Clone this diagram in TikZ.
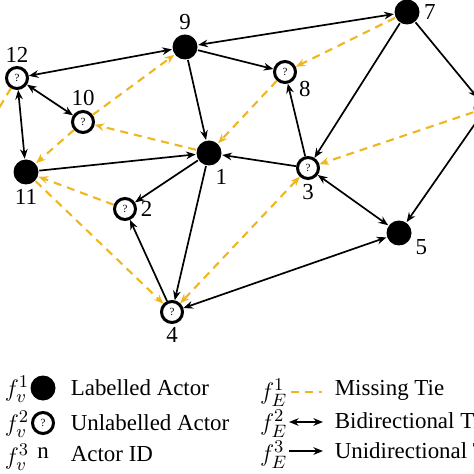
\documentclass[tikz,border=0pt]{standalone}
\usepackage{fontspec}
\setmainfont{Liberation Serif}
\usepackage{amsmath}
\usepackage{tikz}
\usetikzlibrary{arrows.meta}
\definecolor{tieyellow}{RGB}{240,182,30}

\begin{document}
\begin{tikzpicture}[x=0.5bp, y=-0.5bp, >={Stealth[length=4.8bp,width=3.8bp]}, line width=0.85bp, label distance=0.5bp,
	labelled/.style={circle, fill=black, inner sep=0pt, minimum size=12.5bp},
	unlabelled/.style={circle, draw=black, fill=white, line width=1.5bp, inner sep=0pt, minimum size=10.5bp, font=\fontsize{5.5}{5.5}\selectfont},
	actorid/.style={font=\fontsize{11.5}{12}\selectfont, inner sep=1bp},
	missingtie/.style={color=tieyellow, dash pattern=on 4bp off 3bp, line width=1.05bp},
	legend/.style={font=\fontsize{11.5}{13}\selectfont, inner sep=0pt},
	feature/.style={font=\fontsize{13}{14}\selectfont, inner sep=0pt}]

	\useasboundingbox (0,0) rectangle (474,474);
	\clip (0,0) rectangle (474,474);

	% actors
	\node[labelled] (n1) at (209,153) [label={[actorid]-75:1}] {};
	\node[unlabelled] (n2) at (125,209) [label={[actorid]right:2}] {?};
	\node[unlabelled] (n3) at (308,168) [label={[actorid]below:3}] {?};
	\node[unlabelled] (n4) at (172,312) [label={[actorid]below:4}] {?};
	\node[labelled] (n5) at (399,233) [label={[actorid]-15:5}] {};
	\node[labelled] (n6) at (486,108) {};
	\node[labelled] (n7) at (407,12) [label={[actorid]right:7}] {};
	\node[unlabelled] (n8) at (285,72) [label={[actorid]-30:8}] {?};
	\node[labelled] (n9) at (185,47) [label={[actorid]above:9}] {};
	\node[unlabelled] (n10) at (83,122) [label={[actorid]above:10}] {?};
	\node[labelled] (n11) at (26,172) [label={[actorid]below:11}] {};
	\node[unlabelled] (n12) at (17,78) [label={[actorid]above:12}] {?};
	\coordinate (out) at (-20,140);

	% unidirectional ties
	\draw[->] (n9) -- (n8);
	\draw[->] (n9) -- (n1);
	\draw[->] (n11) -- (n1);
	\draw[->] (n1) -- (n2);
	\draw[->] (n1) -- (n4);
	\draw[->] (n3) -- (n1);
	\draw[->] (n3) -- (n8);
	\draw[->] (n7) -- (n3);
	\draw[->] (n7) -- (n6);
	\draw[->] (n6) -- (n5);
	\draw[->] (n4) -- (n2);

	% bidirectional ties
	\draw[<->] (n9) -- (n7);
	\draw[<->] (n12) -- (n9);
	\draw[<->] (n12) -- (n10);
	\draw[<->] (n12) -- (n11);
	\draw[<->] (n3) -- (n5);
	\draw[<->] (n4) -- (n5);

	% missing ties
	\draw[missingtie,->] (n7) -- (n8);
	\draw[missingtie,->] (n10) -- (n9);
	\draw[missingtie,->] (n10) -- (n11);
	\draw[missingtie,->] (n1) -- (n10);
	\draw[missingtie,->] (n8) -- (n1);
	\draw[missingtie,->] (n6) -- (n3);
	\draw[missingtie,<->] (n3) -- (n4);
	\draw[missingtie,->] (n2) -- (n11);
	\draw[missingtie,->] (n11) -- (n4);
	\draw[missingtie] (n12) -- (out);

	% legend
	\node[feature, anchor=east] (fv1) at (30,389) {$f_v^1$};
	\node[labelled] (keylab) at (43,388) {};
	\node[legend, anchor=west] (txtlab) at (70,388) {Labelled Actor};
	\node[feature, anchor=east] (fv2) at (30,424) {$f_v^2$};
	\node[unlabelled] (keyunlab) at (43,423) {?};
	\node[legend, anchor=west] (txtunlab) at (70,423) {Unlabelled Actor};
	\node[feature, anchor=east] (fv3) at (30,457) {$f_v^3$};
	\node[legend] (keyid) at (43,453) {n};
	\node[legend, anchor=west] (txtid) at (70,454) {Actor ID};

	\node[feature, anchor=east] (fe1) at (288,393) {$f_E^1$};
	\coordinate (m1) at (291,392);
	\coordinate (m2) at (322,392);
	\draw[missingtie] (m1) -- (m2);
	\node[legend, anchor=west] (txtmiss) at (334,390) {Missing Tie};
	\node[feature, anchor=east] (fe2) at (288,424) {$f_E^2$};
	\coordinate (b1) at (289,422);
	\coordinate (b2) at (323,422);
	\draw[<->] (b1) -- (b2);
	\node[legend, anchor=west] (txtbi) at (334,421) {Bidirectional Tie};
	\node[feature, anchor=east] (fe3) at (288,455) {$f_E^3$};
	\coordinate (u1) at (289,451);
	\coordinate (u2) at (323,451);
	\draw[->] (u1) -- (u2);
	\node[legend, anchor=west] (txtuni) at (334,451) {Unidirectional Tie};

\end{tikzpicture}
\end{document}
